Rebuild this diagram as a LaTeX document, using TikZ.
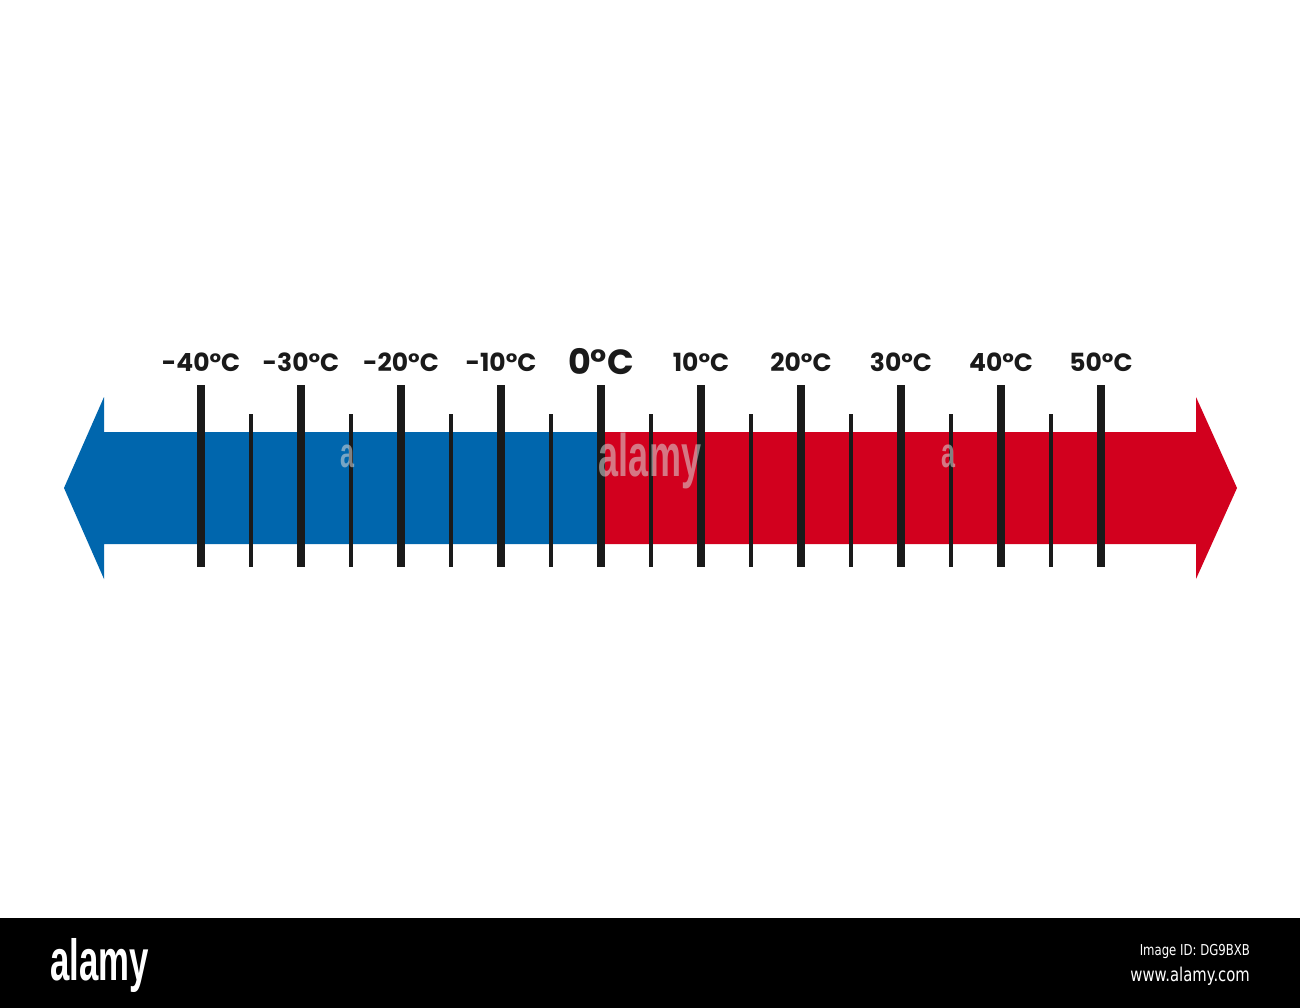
\documentclass[tikz,border=0pt]{standalone}
\usepackage{fontspec}
\setmainfont{Poppins}
\newfontfamily\logofont{Liberation Sans}
\newfontfamily\capfont{DejaVu Sans}
\definecolor{coldblue}{HTML}{0066AD}
\definecolor{hotred}{HTML}{D2001E}
\definecolor{tickblack}{HTML}{1A1A1A}
\begin{document}
\begin{tikzpicture}[x=1pt,y=-1pt,
  majortick/.style={draw=tickblack,line width=8pt},
  minortick/.style={draw=tickblack,line width=4pt},
  templabel/.style={font=\fontsize{25}{25}\selectfont\bfseries,text=tickblack,inner sep=0pt,anchor=base},
  zerolabel/.style={font=\fontsize{35}{35}\selectfont\bfseries,text=tickblack,inner sep=0pt,anchor=base},
  watermark/.style={text=white!70!gray,opacity=0.55,inner sep=0pt}]
\useasboundingbox (0,0) rectangle (1300,1008);
\fill[white] (0,0) rectangle (1300,1008);
% arrow halves
\fill[coldblue] (64,488) -- (104,397) -- (104,432) -- (602,432) -- (602,544) -- (104,544) -- (104,579) -- cycle;
\fill[hotred] (602,432) -- (1196,432) -- (1196,397) -- (1237,488) -- (1196,579) -- (1196,544) -- (602,544) -- cycle;
% ticks
\foreach \i in {0,...,9} {
  \draw[majortick] ({201+100*\i},385) -- ({201+100*\i},567);
}
\foreach \i in {0,...,8} {
  \draw[minortick] ({251+100*\i},414) -- ({251+100*\i},567);
}
% watermark
\node[watermark,font=\logofont\bfseries\fontsize{60}{60}\selectfont,xscale=0.6,anchor=base] (wm) at (650,476) {alamy};
\node[watermark,font=\logofont\bfseries\fontsize{42}{42}\selectfont,xscale=0.6,anchor=base] (wma) at (348,467) {a};
\node[watermark,font=\logofont\bfseries\fontsize{42}{42}\selectfont,xscale=0.6,anchor=base] (wmb) at (948,467) {a};
% labels
\node[templabel] (m40) at (201,371) {-40°C};
\node[templabel] (m30) at (301,371) {-30°C};
\node[templabel] (m20) at (401,371) {-20°C};
\node[templabel] (m10) at (501,371) {-10°C};
\node[zerolabel] (z0) at (601,374) {0°C};
\node[templabel] (p10) at (701,371) {10°C};
\node[templabel] (p20) at (801,371) {20°C};
\node[templabel] (p30) at (901,371) {30°C};
\node[templabel] (p40) at (1001,371) {40°C};
\node[templabel] (p50) at (1101,371) {50°C};
% bottom bar
\fill[black] (0,918) rectangle (1300,1008);
\node[text=white,inner sep=0pt,anchor=base west,font=\logofont\bfseries\fontsize{58}{58}\selectfont,xscale=0.6] (logo) at (50,980) {alamy};
\node[text=white,inner sep=0pt,anchor=base east,font=\capfont\fontsize{15}{15}\selectfont,xscale=0.78] (imgid) at (1250,955) {Image ID: DG9BXB};
\node[text=white,inner sep=0pt,anchor=base east,font=\capfont\fontsize{19}{19}\selectfont,xscale=0.78] (www) at (1250,981) {www.alamy.com};
\end{tikzpicture}
\end{document}
